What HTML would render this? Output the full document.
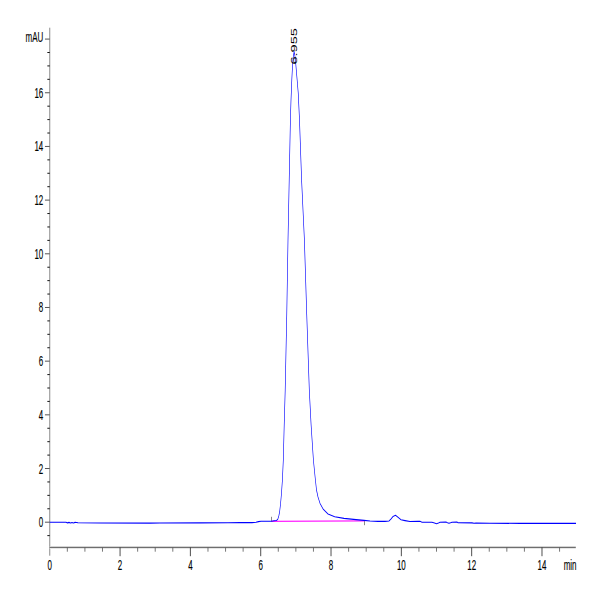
<!DOCTYPE html>
<html><head><meta charset="utf-8"><style>html,body{margin:0;padding:0;background:#fff;overflow:hidden}svg{display:block}</style></head>
<body><svg width="600" height="600" viewBox="0 0 600 600">
<rect width="600" height="600" fill="#fff"/>

<g ><line x1="49.75" y1="27.7" x2="49.75" y2="555.7" stroke="#8b8b8b" stroke-width="1"/><line x1="49.75" y1="546.5" x2="575.8" y2="546.5" stroke="#d4d4d4" stroke-width="1"/><line x1="49.75" y1="548.5" x2="575.8" y2="548.5" stroke="#e6e6e6" stroke-width="1"/><line x1="49.75" y1="547.5" x2="575.8" y2="547.5" stroke="#6e6e6e" stroke-width="1"/><line x1="47.35" y1="535.62" x2="49.75" y2="535.62" stroke="#111" stroke-width="1"/><line x1="44.95" y1="522.20" x2="49.75" y2="522.20" stroke="#555" stroke-width="1"/><line x1="47.35" y1="508.78" x2="49.75" y2="508.78" stroke="#111" stroke-width="1"/><line x1="47.35" y1="495.36" x2="49.75" y2="495.36" stroke="#111" stroke-width="1"/><line x1="47.35" y1="481.94" x2="49.75" y2="481.94" stroke="#111" stroke-width="1"/><line x1="44.95" y1="468.52" x2="49.75" y2="468.52" stroke="#555" stroke-width="1"/><line x1="47.35" y1="455.10" x2="49.75" y2="455.10" stroke="#111" stroke-width="1"/><line x1="47.35" y1="441.68" x2="49.75" y2="441.68" stroke="#111" stroke-width="1"/><line x1="47.35" y1="428.26" x2="49.75" y2="428.26" stroke="#111" stroke-width="1"/><line x1="44.95" y1="414.84" x2="49.75" y2="414.84" stroke="#555" stroke-width="1"/><line x1="47.35" y1="401.42" x2="49.75" y2="401.42" stroke="#111" stroke-width="1"/><line x1="47.35" y1="388.00" x2="49.75" y2="388.00" stroke="#111" stroke-width="1"/><line x1="47.35" y1="374.58" x2="49.75" y2="374.58" stroke="#111" stroke-width="1"/><line x1="44.95" y1="361.16" x2="49.75" y2="361.16" stroke="#555" stroke-width="1"/><line x1="47.35" y1="347.74" x2="49.75" y2="347.74" stroke="#111" stroke-width="1"/><line x1="47.35" y1="334.32" x2="49.75" y2="334.32" stroke="#111" stroke-width="1"/><line x1="47.35" y1="320.90" x2="49.75" y2="320.90" stroke="#111" stroke-width="1"/><line x1="44.95" y1="307.48" x2="49.75" y2="307.48" stroke="#555" stroke-width="1"/><line x1="47.35" y1="294.06" x2="49.75" y2="294.06" stroke="#111" stroke-width="1"/><line x1="47.35" y1="280.64" x2="49.75" y2="280.64" stroke="#111" stroke-width="1"/><line x1="47.35" y1="267.22" x2="49.75" y2="267.22" stroke="#111" stroke-width="1"/><line x1="44.95" y1="253.80" x2="49.75" y2="253.80" stroke="#555" stroke-width="1"/><line x1="47.35" y1="240.38" x2="49.75" y2="240.38" stroke="#111" stroke-width="1"/><line x1="47.35" y1="226.96" x2="49.75" y2="226.96" stroke="#111" stroke-width="1"/><line x1="47.35" y1="213.54" x2="49.75" y2="213.54" stroke="#111" stroke-width="1"/><line x1="44.95" y1="200.12" x2="49.75" y2="200.12" stroke="#555" stroke-width="1"/><line x1="47.35" y1="186.70" x2="49.75" y2="186.70" stroke="#111" stroke-width="1"/><line x1="47.35" y1="173.28" x2="49.75" y2="173.28" stroke="#111" stroke-width="1"/><line x1="47.35" y1="159.86" x2="49.75" y2="159.86" stroke="#111" stroke-width="1"/><line x1="44.95" y1="146.44" x2="49.75" y2="146.44" stroke="#555" stroke-width="1"/><line x1="47.35" y1="133.02" x2="49.75" y2="133.02" stroke="#111" stroke-width="1"/><line x1="47.35" y1="119.60" x2="49.75" y2="119.60" stroke="#111" stroke-width="1"/><line x1="47.35" y1="106.18" x2="49.75" y2="106.18" stroke="#111" stroke-width="1"/><line x1="44.95" y1="92.76" x2="49.75" y2="92.76" stroke="#555" stroke-width="1"/><line x1="47.35" y1="79.34" x2="49.75" y2="79.34" stroke="#111" stroke-width="1"/><line x1="47.35" y1="65.92" x2="49.75" y2="65.92" stroke="#111" stroke-width="1"/><line x1="47.35" y1="52.50" x2="49.75" y2="52.50" stroke="#111" stroke-width="1"/><line x1="44.95" y1="39.08" x2="49.75" y2="39.08" stroke="#555" stroke-width="1"/><line x1="67.33" y1="547.5" x2="67.33" y2="551.70" stroke="#555" stroke-width="0.8"/><line x1="84.91" y1="547.5" x2="84.91" y2="551.70" stroke="#555" stroke-width="0.8"/><line x1="102.49" y1="547.5" x2="102.49" y2="551.70" stroke="#555" stroke-width="0.8"/><line x1="120.07" y1="547.5" x2="120.07" y2="556.20" stroke="#222" stroke-width="0.8"/><line x1="137.65" y1="547.5" x2="137.65" y2="551.70" stroke="#555" stroke-width="0.8"/><line x1="155.23" y1="547.5" x2="155.23" y2="551.70" stroke="#555" stroke-width="0.8"/><line x1="172.81" y1="547.5" x2="172.81" y2="551.70" stroke="#555" stroke-width="0.8"/><line x1="190.39" y1="547.5" x2="190.39" y2="556.20" stroke="#222" stroke-width="0.8"/><line x1="207.97" y1="547.5" x2="207.97" y2="551.70" stroke="#555" stroke-width="0.8"/><line x1="225.55" y1="547.5" x2="225.55" y2="551.70" stroke="#555" stroke-width="0.8"/><line x1="243.13" y1="547.5" x2="243.13" y2="551.70" stroke="#555" stroke-width="0.8"/><line x1="260.71" y1="547.5" x2="260.71" y2="556.20" stroke="#222" stroke-width="0.8"/><line x1="278.29" y1="547.5" x2="278.29" y2="551.70" stroke="#555" stroke-width="0.8"/><line x1="295.87" y1="547.5" x2="295.87" y2="551.70" stroke="#555" stroke-width="0.8"/><line x1="313.45" y1="547.5" x2="313.45" y2="551.70" stroke="#555" stroke-width="0.8"/><line x1="331.03" y1="547.5" x2="331.03" y2="556.20" stroke="#222" stroke-width="0.8"/><line x1="348.61" y1="547.5" x2="348.61" y2="551.70" stroke="#555" stroke-width="0.8"/><line x1="366.19" y1="547.5" x2="366.19" y2="551.70" stroke="#555" stroke-width="0.8"/><line x1="383.77" y1="547.5" x2="383.77" y2="551.70" stroke="#555" stroke-width="0.8"/><line x1="401.35" y1="547.5" x2="401.35" y2="556.20" stroke="#222" stroke-width="0.8"/><line x1="418.93" y1="547.5" x2="418.93" y2="551.70" stroke="#555" stroke-width="0.8"/><line x1="436.51" y1="547.5" x2="436.51" y2="551.70" stroke="#555" stroke-width="0.8"/><line x1="454.09" y1="547.5" x2="454.09" y2="551.70" stroke="#555" stroke-width="0.8"/><line x1="471.67" y1="547.5" x2="471.67" y2="556.20" stroke="#222" stroke-width="0.8"/><line x1="489.25" y1="547.5" x2="489.25" y2="551.70" stroke="#555" stroke-width="0.8"/><line x1="506.83" y1="547.5" x2="506.83" y2="551.70" stroke="#555" stroke-width="0.8"/><line x1="524.41" y1="547.5" x2="524.41" y2="551.70" stroke="#555" stroke-width="0.8"/><line x1="541.99" y1="547.5" x2="541.99" y2="556.20" stroke="#222" stroke-width="0.8"/><line x1="559.57" y1="547.5" x2="559.57" y2="551.70" stroke="#555" stroke-width="0.8"/><line x1="271.5" y1="516.8" x2="271.5" y2="521.5" stroke="#555" stroke-width="0.7"/><line x1="364.5" y1="520.5" x2="364.5" y2="525.2" stroke="#555" stroke-width="0.7"/>
<g transform="scale(0.57,1)">
<line x1="476.32" y1="521.45" x2="639.30" y2="520.9" stroke="#ff20ff" stroke-width="1.3"/>
<path d="M87.28,522.30 L115.79,522.30 L118.42,522.90 L121.05,522.40 L123.68,523.00 L126.32,522.50 L128.95,523.00 L131.58,522.40 L134.21,522.50 L136.84,522.80 L175.44,523.00 L263.16,523.10 L280.70,523.00 L350.88,522.90 L400.00,522.80 L421.05,522.60 L442.11,522.60 L449.12,522.30 L453.51,521.60 L457.89,521.30 L476.32,521.30 L480.70,520.70 L485.09,520.50 L487.37,519.30 L489.12,516.00 L490.53,512.00 L491.75,506.00 L492.81,500.00 L493.86,493.00 L495.44,480.00 L497.02,460.00 L498.60,425.00 L500.35,390.00 L503.07,315.00 L505.26,240.00 L507.37,180.00 L509.47,120.00 L510.53,100.00 L511.93,80.00 L513.33,64.00 L514.74,56.00 L515.96,51.60 L517.19,55.00 L518.60,62.00 L520.70,76.00 L523.16,92.50 L525.44,120.00 L529.12,180.00 L534.04,240.00 L538.16,315.00 L542.63,390.00 L545.79,425.00 L549.82,460.00 L552.98,478.00 L555.26,490.00 L557.89,497.00 L561.40,503.30 L567.19,509.30 L575.44,514.00 L587.19,516.70 L603.51,518.40 L624.56,519.60 L638.60,520.40 L649.12,521.00 L663.16,521.40 L675.44,521.40 L682.46,521.00 L685.96,519.00 L689.47,516.50 L693.86,515.30 L698.25,517.30 L703.51,519.80 L710.53,520.60 L719.30,521.50 L733.33,521.40 L736.84,521.30 L740.35,522.20 L757.89,522.20 L762.28,523.00 L765.79,523.70 L769.30,523.00 L771.93,522.20 L782.46,522.00 L785.09,522.80 L787.72,523.20 L790.35,522.80 L792.98,522.20 L801.75,522.00 L803.51,522.80 L828.07,522.90 L831.58,523.30 L835.09,523.00 L859.65,523.20 L912.28,523.40 L964.91,523.40 L1010.53,523.40" stroke="#0000ff" stroke-width="1.1" fill="none" stroke-linejoin="round"/>
</g></g>
<g transform="scale(0.57,1)">
<g font-family="Liberation Sans, Arial, sans-serif" font-size="14" fill="#000" stroke="#000" stroke-width="0.15"><text x="75.96" y="527.20" text-anchor="end">0</text><text x="75.96" y="473.52" text-anchor="end">2</text><text x="75.96" y="419.84" text-anchor="end">4</text><text x="75.96" y="366.16" text-anchor="end">6</text><text x="75.96" y="312.48" text-anchor="end">8</text><text x="75.96" y="258.80" text-anchor="end">10</text><text x="75.96" y="205.12" text-anchor="end">12</text><text x="75.96" y="151.44" text-anchor="end">14</text><text x="75.96" y="97.76" text-anchor="end">16</text><text x="75.96" y="42.08" text-anchor="end">mAU</text><text x="87.28" y="570" text-anchor="middle">0</text><text x="210.65" y="570" text-anchor="middle">2</text><text x="334.02" y="570" text-anchor="middle">4</text><text x="457.39" y="570" text-anchor="middle">6</text><text x="580.75" y="570" text-anchor="middle">8</text><text x="704.12" y="570" text-anchor="middle">10</text><text x="827.49" y="570" text-anchor="middle">12</text><text x="950.86" y="570" text-anchor="middle">14</text><text x="1011.40" y="570" text-anchor="end">min</text></g>
</g>
<text transform="translate(297.30,64.60) scale(0.6,1) rotate(-90)" font-family="Liberation Sans, Arial, sans-serif" font-size="14.6" fill="#000">6.955</text>
</svg></body></html>
